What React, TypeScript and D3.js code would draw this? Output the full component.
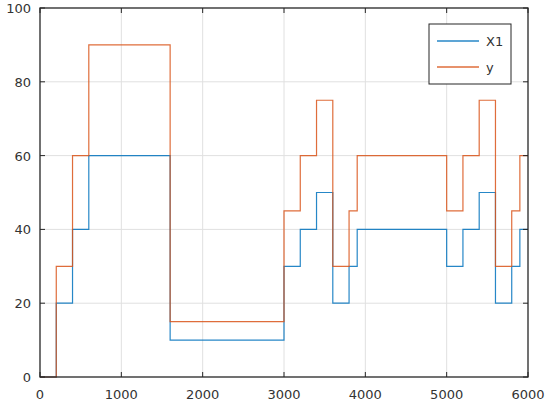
import React from 'react';
import * as d3 from 'd3';

// step positions and values (stairs, value holds until next break)
const breaks = [0, 200, 400, 600, 1600, 3000, 3200, 3400, 3600, 3800, 3900, 5000, 5200, 5400, 5600, 5800, 5900, 6000];
const x1Values = [0, 20, 40, 60, 10, 30, 40, 50, 20, 30, 40, 30, 40, 50, 20, 30, 40, 40];
const yValues = [0, 30, 60, 90, 15, 45, 60, 75, 30, 45, 60, 45, 60, 75, 30, 45, 60, 60];
const xTicks = [0, 1000, 2000, 3000, 4000, 5000, 6000];
const yTicks = [0, 20, 40, 60, 80, 100];
const seriesNames = ['X1', 'y'];
const seriesColors = ['#0072BD', '#D95319'];

const W = 550;
const H = 409;
const m = { left: 40, right: 22, top: 8, bottom: 32 };

const App: React.FC = () => {
  const x = d3.scaleLinear().domain([0, 6000]).range([m.left, W - m.right]);
  const y = d3.scaleLinear().domain([0, 100]).range([H - m.bottom, m.top]);

  const line = d3.line<number>()
    .x((_, i) => x(breaks[i]))
    .y(d => y(d))
    .curve(d3.curveStepAfter);

  const series = [x1Values, yValues];
  const x0 = x(0), x1 = x(6000), y0 = y(0), y1 = y(100);
  const tickLen = 5;
  const axisColor = '#262626';
  const font = '"DejaVu Sans", sans-serif';

  const lg = { x: 429, y: 24, w: 82, h: 60 };

  return (
    <div style={{ position: 'absolute', left: 0, top: 0 }}>
      <svg width={W} height={H} style={{ display: 'block', background: '#fff' }}>
        {/* grid */}
        <g stroke="#e0e0e0" strokeWidth={1}>
          {xTicks.slice(1, -1).map(t => (
            <line key={'gx' + t} x1={x(t)} x2={x(t)} y1={y0} y2={y1} />
          ))}
          {yTicks.slice(1, -1).map(t => (
            <line key={'gy' + t} x1={x0} x2={x1} y1={y(t)} y2={y(t)} />
          ))}
        </g>

        {/* data */}
        {series.map((s, i) => (
          <path key={seriesNames[i]} d={line(s) || ''} fill="none"
            stroke={seriesColors[i]} strokeWidth={1.2} strokeOpacity={0.85} />
        ))}

        {/* box + ticks */}
        <rect x={x0} y={y1} width={x1 - x0} height={y0 - y1} fill="none" stroke={axisColor} strokeWidth={1.3} />
        <g stroke={axisColor} strokeWidth={1}>
          {xTicks.map(t => (
            <g key={'tx' + t}>
              <line x1={x(t)} x2={x(t)} y1={y0} y2={y0 - tickLen} />
              <line x1={x(t)} x2={x(t)} y1={y1} y2={y1 + tickLen} />
            </g>
          ))}
          {yTicks.map(t => (
            <g key={'ty' + t}>
              <line x1={x0} x2={x0 + tickLen} y1={y(t)} y2={y(t)} />
              <line x1={x1} x2={x1 - tickLen} y1={y(t)} y2={y(t)} />
            </g>
          ))}
        </g>

        {/* tick labels */}
        <g fill="#333" fontFamily={font} fontSize={13}>
          {xTicks.map(t => (
            <text key={'lx' + t} x={x(t)} y={y0 + 22} textAnchor="middle">{t}</text>
          ))}
          {yTicks.map(t => (
            <text key={'ly' + t} x={x0 - 9} y={y(t) + 5} textAnchor="end">{t}</text>
          ))}
        </g>

        {/* legend */}
        <rect x={lg.x} y={lg.y} width={lg.w} height={lg.h} fill="#fff" stroke={axisColor} strokeWidth={1} />
        {seriesNames.map((n, i) => {
          const ly = lg.y + 17 + i * 26;
          return (
            <g key={'lg' + n}>
              <line x1={lg.x + 8} x2={lg.x + 50} y1={ly} y2={ly} stroke={seriesColors[i]} strokeWidth={1.4} strokeOpacity={0.85} />
              <text x={lg.x + 57} y={ly + 5} fontFamily={font} fontSize={13} fill="#333">{n}</text>
            </g>
          );
        })}
      </svg>
    </div>
  );
};

export default App;
